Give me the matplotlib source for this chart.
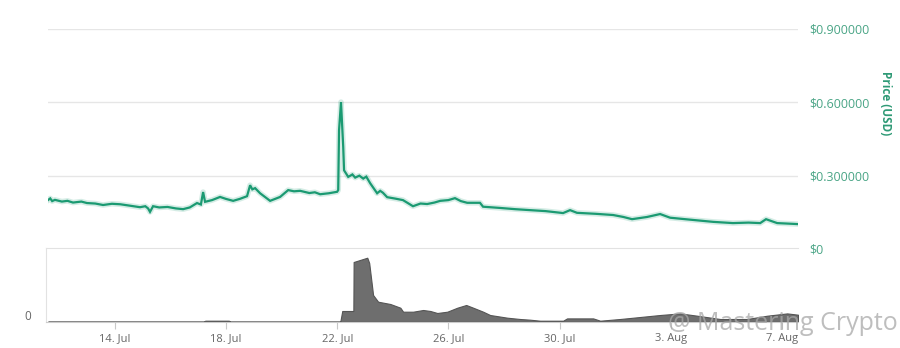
import numpy as np
import pandas as pd
import matplotlib
matplotlib.use("Agg")
import matplotlib.pyplot as plt
import matplotlib.dates as mdates
from matplotlib.transforms import ScaledTranslation

plt.rcParams['font.family'] = ['Open Sans', 'DejaVu Sans']

# price, day of July (fractional) -> USD
price_days = [11.60, 11.68, 11.75, 11.85, 12.10, 12.30, 12.50, 12.80, 13.00, 13.30, 13.58,
              13.90, 14.20, 14.50, 14.91, 15.10, 15.20, 15.27, 15.38, 15.60, 15.90, 16.20,
              16.46, 16.70, 16.96, 17.10, 17.18, 17.25, 17.50, 17.79, 18.00, 18.26, 18.50,
              18.76, 18.87, 18.95, 19.05, 19.23, 19.59, 19.95, 20.24, 20.45, 20.67, 21.00,
              21.20, 21.39, 21.70, 22.00, 22.04, 22.07, 22.14, 22.22, 22.25, 22.40, 22.55,
              22.65, 22.80, 22.94, 23.05, 23.19, 23.44, 23.55, 23.65, 23.80, 24.10, 24.37,
              24.73, 25.00, 25.24, 25.50, 25.71, 26.00, 26.24, 26.45, 26.68, 27.14, 27.25,
              27.86, 28.40, 28.94, 29.50, 30.13, 30.38, 30.63, 31.30, 31.93, 32.30, 32.61,
              33.15, 33.62, 33.98, 34.70, 35.53, 36.24, 36.80, 37.22, 37.43, 37.83, 38.20,
              38.55]
price_usd = [0.200, 0.207, 0.196, 0.201, 0.194, 0.197, 0.190, 0.194, 0.188, 0.186, 0.180,
             0.185, 0.183, 0.178, 0.171, 0.175, 0.166, 0.152, 0.175, 0.170, 0.172, 0.166,
             0.163, 0.170, 0.188, 0.182, 0.233, 0.193, 0.200, 0.213, 0.205, 0.197, 0.205,
             0.216, 0.261, 0.244, 0.249, 0.228, 0.197, 0.213, 0.241, 0.236, 0.238, 0.229,
             0.232, 0.224, 0.228, 0.234, 0.241, 0.486, 0.601, 0.418, 0.322, 0.295, 0.305,
             0.292, 0.300, 0.288, 0.296, 0.269, 0.228, 0.238, 0.230, 0.212, 0.206, 0.200,
             0.175, 0.186, 0.184, 0.190, 0.197, 0.200, 0.208, 0.196, 0.189, 0.189, 0.173,
             0.168, 0.163, 0.159, 0.155, 0.147, 0.159, 0.148, 0.144, 0.139, 0.131, 0.122,
             0.131, 0.143, 0.128, 0.120, 0.111, 0.106, 0.108, 0.106, 0.122, 0.106, 0.104,
             0.102]

# volume (arbitrary units)
vol_days = [11.60, 17.20, 17.25, 18.10, 18.15, 22.08, 22.11, 22.18, 22.58, 22.59, 23.08,
            23.15, 23.29, 23.47, 23.91, 24.27, 24.37, 24.73, 25.09, 25.35, 25.60, 25.96,
            26.32, 26.64, 26.89, 27.25, 27.50, 28.12, 28.58, 28.94, 29.30, 30.13, 30.27,
            31.21, 31.46, 32.18, 32.65, 33.62, 34.34, 34.95, 35.78, 36.75, 37.47, 38.19, 38.58]
vol_vals = [0, 0, 1, 1, 0, 0, 0, 10.7, 10.7, 59.7, 64, 58.7, 26.7, 20, 17.7, 14, 10, 10,
            11.7, 10.7, 8.7, 10, 14, 16.7, 14, 10, 6.7, 4, 2.7, 2, 1, 1, 3.3, 3.3, 1, 2.7,
            4, 6.7, 8.3, 6, 2.7, 2.7, 6, 8.3, 7]

tick_days = [14, 18, 22, 26, 30, 34, 38]
price_ticks = [0, 0.3, 0.6, 0.9]
price_labels = ["$0", "$0.300000", "$0.600000", "$0.900000"]

base = pd.Timestamp("2019-07-01")
def to_dates(days):
    return base + pd.to_timedelta(np.array(days) - 1, unit="D")

green = "#1b9a72"
label_green = "#4aa586"

fig = plt.figure(figsize=(9, 3.48), dpi=100)
W, H = 900, 348
ax = fig.add_axes([48 / W, 1 - 249 / H, 750 / W, 220 / H])
axv = fig.add_axes([46 / W, 1 - 321.7 / H, 752 / W, 73.7 / H])

x0, x1 = to_dates([11.60])[0], to_dates([38.58])[0]

# price panel
pd_dates = to_dates(price_days)
ax.plot(pd_dates, price_usd, color=green, lw=4, alpha=0.18, solid_joinstyle="round")
ax.plot(pd_dates, price_usd, color=green, lw=1.6, solid_joinstyle="miter")
ax.set_ylim(0, 0.9)
ax.set_xlim(x0, x1)
ax.set_yticks(price_ticks)
ax.set_yticklabels(price_labels)
ax.yaxis.tick_right()
ax.tick_params(axis="y", length=0, pad=8, labelsize=9, labelcolor=label_green)
ax.tick_params(axis="x", bottom=False, labelbottom=False)
ax.grid(axis="y", color="#e6e6e6", lw=1)
ax.set_axisbelow(True)
for s in ax.spines.values():
    s.set_visible(False)
fig.text(886 / W, 1 - 103 / H, "Price (USD)", rotation=-90, ha="center", va="center",
         fontsize=8.5, fontweight="bold", color="#2f9a76")

# volume panel
vd = to_dates(vol_days)
axv.fill_between(vd, vol_vals, 0, color="#6e6e6e", lw=0.8, edgecolor="#555555")
axv.set_xlim(to_dates([11.52])[0], x1)
axv.set_ylim(0, 73.7)
axv.set_yticks([0])
axv.set_yticklabels(["0"])
axv.tick_params(axis="y", length=0, pad=11, labelsize=8.5, labelcolor="#666666")
for lab in axv.get_yticklabels():
    lab.set_transform(lab.get_transform() + ScaledTranslation(0, 5 / 72, fig.dpi_scale_trans))
axv.set_xticks(to_dates(tick_days))
axv.xaxis.set_major_formatter(mdates.DateFormatter("%-d. %b"))
axv.tick_params(axis="x", length=5, color="#c8c8c8", labelsize=8, labelcolor="#666666", pad=3)
axv.spines["right"].set_visible(False)
axv.spines["left"].set_color("#e2e2e2")
axv.spines["top"].set_color("#e2e2e2")
axv.spines["bottom"].set_color("#cccccc")

# watermark
fig.text(668 / W, 1 - 323 / H, "@ Mastering Crypto", fontsize=18, color="#a8a8a8",
         alpha=0.75, ha="left", va="center")

fig.savefig("out.png", dpi=100, facecolor="white")
